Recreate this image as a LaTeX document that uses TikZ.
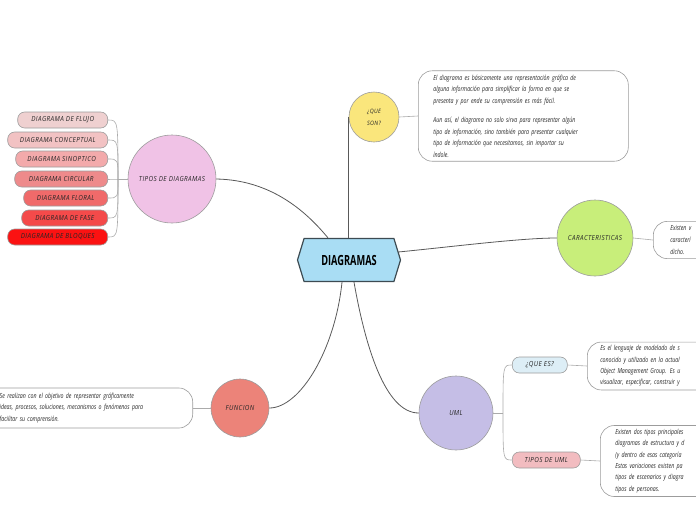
\documentclass[tikz,border=0pt]{standalone}
\usepackage{fontspec}
\setmainfont{Open Sans}
\newfontfamily\notefont{Open Sans}[FakeStretch=0.75]
\newfontfamily\labelfont{Open Sans}[FakeStretch=0.9, LetterSpace=6]
\newfontfamily\titlefont{Open Sans}[FakeStretch=0.66]
\usetikzlibrary{shapes.symbols}

\definecolor{txtgray}{HTML}{262626}
\definecolor{rimgray}{HTML}{9C9C9C}
\definecolor{linedark}{HTML}{595959}
\definecolor{linelight}{HTML}{ABABAB}
\definecolor{hexblue}{HTML}{A9DDF4}
\definecolor{hexrim}{HTML}{3D4B52}
\definecolor{sonyellow}{HTML}{FAE67C}
\definecolor{tipopink}{HTML}{F0C2E6}
\definecolor{caragreen}{HTML}{C8EE7A}
\definecolor{umlviolet}{HTML}{C5BEE6}
\definecolor{funsalmon}{HTML}{EC8379}
\definecolor{esblue}{HTML}{DDEEF6}
\definecolor{umlpink}{HTML}{F2BCC0}
\definecolor{pa}{HTML}{EFD0D0}
\definecolor{pb}{HTML}{F2C2C3}
\definecolor{pc}{HTML}{F3AAAB}
\definecolor{pd}{HTML}{EE8A8B}
\definecolor{pe}{HTML}{F06A6A}
\definecolor{pf}{HTML}{F44A4A}
\definecolor{pg}{HTML}{FB1212}

\begin{document}
\begin{tikzpicture}[
  x=1pt, y=-1pt,
  every node/.style={font=\labelfont\itshape\fontsize{7}{8}\selectfont, text=txtgray},
  topic/.style={circle, draw=rimgray, line width=0.6pt, inner sep=0pt},
  pill/.style={draw=rimgray, rectangle, rounded corners=7pt, minimum height=16pt, inner sep=0pt, line width=0.6pt},
  note/.style={draw=rimgray, rectangle, rounded corners=14pt, fill=white, align=left, line width=0.6pt,
    font=\notefont\itshape\fontsize{7}{11.5}\selectfont},
  mainline/.style={draw=linedark, line width=0.8pt},
  thinline/.style={draw=linelight, line width=0.6pt}
]
\useasboundingbox (0,0) rectangle (696,520);

% Center
\node[signal, signal to=west and east, signal pointer angle=146, draw=hexrim, fill=hexblue,
  line width=1.2pt, minimum width=103pt, minimum height=43pt, inner sep=0pt,
  font=\titlefont\bfseries\fontsize{14}{14}\selectfont, text=black] (diagramas) at (349,260) {DIAGRAMAS};

% Que son
\node[topic, fill=sonyellow, minimum size=50pt, align=center, font=\labelfont\itshape\fontsize{6}{12}\selectfont] (queson) at (374,117) {¿QUE\\SON?};
\node[note, anchor=west, text width=180pt, inner xsep=15pt, inner ysep=4pt] (sonnote) at (418,116)
  {El diagrama es básicamente una representación gráfica de\\
   alguna información para simplificar la forma en que se\\
   presenta y por ende su comprensión es más fácil.\\[8pt]
   Aun así, el diagrama no solo sirva para representar algún\\
   tipo de información, sino también para presentar cualquier\\
   tipo de información que necesitamos, sin importar su\\
   índole.};
\draw[mainline] ([xshift=-1pt]diagramas.north) |- (queson.west);
\draw[thinline] (queson.east) -- (sonnote.west);

% Tipos de diagramas
\node[topic, fill=tipopink, minimum size=88pt] (tipos) at (172,179) {TIPOS DE DIAGRAMAS};
\draw[mainline] (tipos.east) .. controls (270,180) and (305,210) .. ([xshift=-21pt]diagramas.north);
\coordinate (jt) at (118,179);
\draw[thinline] (tipos.west) -- (jt);
\foreach \i/\txt/\w/\yy/\col in {1/DIAGRAMA DE FLUJO/90/120/pa, 2/DIAGRAMA CONCEPTUAL/100/140/pb,
  3/DIAGRAMA SINOPTICO/92/159/pc, 4/DIAGRAMA CIRCULAR/93/179/pd, 5/DIAGRAMA FLORAL/84/198/pe,
  6/DIAGRAMA DE FASE/86/218/pf, 7/DIAGRAMA DE BLOQUES/100/237/pg} {
  \node[pill, fill=\col, minimum width=\w pt, anchor=east] (d\i) at (108,\yy) {\txt};
  \draw[thinline] (jt) .. controls (jt |- d\i.east) .. (d\i.east);
}

% Caracteristicas
\node[topic, fill=caragreen, minimum size=76pt] (carac) at (595,238) {CARACTERISTICAS};
\node[note, anchor=west, text width=120pt, inner xsep=17pt, inner ysep=4pt, font=\notefont\itshape\fontsize{7}{12}\selectfont] (caranote) at (653,240)
  {Existen v\\caracterí\\dicho.};
\draw[mainline] ([xshift=-3pt, yshift=8pt]diagramas.east) .. controls (450,247) and (520,238) .. (carac.west);
\draw[thinline] (carac.east) -- (caranote.west);

% UML
\node[topic, fill=umlviolet, minimum size=74pt] (uml) at (456,413) {UML};
\draw[mainline] ([xshift=5pt]diagramas.south) .. controls (365,345) and (385,413) .. (uml.west);
\coordinate (ju) at (503,413);
\draw[thinline] (uml.east) -- (ju);
\node[pill, fill=esblue, minimum width=55pt, anchor=west] (quees) at (512,365) {¿QUE ES?};
\node[pill, fill=umlpink, minimum width=68pt, anchor=west] (tiposuml) at (512,460) {TIPOS DE UML};
\draw[thinline] (ju) .. controls (ju |- quees.west) .. (quees.west);
\draw[thinline] (ju) .. controls (ju |- tiposuml.west) .. (tiposuml.west);
\node[note, anchor=west, text width=150pt, inner xsep=13pt, inner ysep=3.5pt, font=\notefont\itshape\fontsize{7}{11.3}\selectfont] (esnote) at (587,366)
  {Es el lenguaje de modelado de s\\
   conocido y utilizado en la actual\\
   Object Management Group. Es u\\
   visualizar, especificar, construir y};
\node[note, anchor=west, text width=150pt, inner xsep=15pt, inner ysep=3.5pt, font=\notefont\itshape\fontsize{7}{11.4}\selectfont] (umlnote) at (600,461)
  {Existen dos tipos principales\\
   diagramas de estructura y d\\
   (y dentro de esas categoría\\
   Estas variaciones existen pa\\
   tipos de escenarios y diagra\\
   tipos de personas.};
\draw[thinline] (quees.east) -- (esnote.west);
\draw[thinline] (tiposuml.east) -- (umlnote.west);

% Funcion
\node[topic, fill=funsalmon, minimum size=58pt] (funcion) at (240,408) {FUNCION};
\draw[mainline] ([xshift=-7pt]diagramas.south) .. controls (335,350) and (300,408) .. (funcion.east);
\node[note, anchor=east, text width=172pt, inner xsep=21pt, inner ysep=5pt] (funnote) at (193,408)
  {Se realizan con el objetivo de representar gráficamente\\
   ideas, procesos, soluciones, mecanismos o fenómenos para\\
   facilitar su comprensión.};
\draw[thinline] (funcion.west) -- (funnote.east);

\end{tikzpicture}
\end{document}
